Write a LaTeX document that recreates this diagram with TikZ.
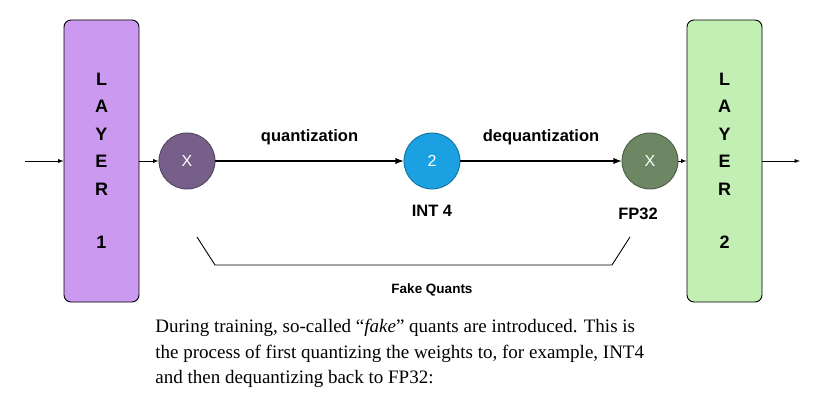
\documentclass[tikz,border=0pt]{standalone}
\usepackage{fontspec}
\setmainfont{Liberation Sans}
\newfontfamily\capfont{Liberation Serif}
\usetikzlibrary{positioning}
\definecolor{layerA}{HTML}{CC99F0}
\definecolor{layerB}{HTML}{C2EFB3}
\definecolor{opA}{HTML}{76608A}
\definecolor{opB}{HTML}{1BA1E2}
\definecolor{opC}{HTML}{6D8764}
\newcommand{\layer}{\node[draw, rounded corners=7pt, minimum width=75pt, minimum height=282pt, font=\bfseries\fontsize{18}{27.5}\selectfont, align=center]}
\newcommand{\op}{\node[circle, draw, minimum size=56pt, text=white, font=\fontsize{16}{16}\selectfont]}
\begin{document}
\begin{tikzpicture}[x=1pt, y=-1pt, >=latex, line width=0.9pt,
    lbl/.style={font=\bfseries\fontsize{16.5}{16.5}\selectfont}]
\useasboundingbox (0,0) rectangle (828,417);
            \layer[fill=layerA] (l1) at (101.5,161) {L\\A\\Y\\E\\R\\[26pt]1};
            \layer[fill=layerB] (l2) at (724.5,161) {L\\A\\Y\\E\\R\\[26pt]2};
            \op[fill=opA, draw=opA!70!black] (x1) at (187,161) {X};
            \op[fill=opB, draw=opB!70!black] (q) at (432,161) {2};
            \op[fill=opC, draw=opC!70!black] (x2) at (650,161) {X};
            \coordinate (in) at (25,161);
            \coordinate (out) at (800,161);
            \coordinate (b1) at (197,237);
            \coordinate (b2) at (215,265);
            \coordinate (b3) at (612,265);
            \coordinate (b4) at (630,237);

            \draw[->] (in) -- (l1);
            \draw[->] (l1) -- (x1);
            \draw[->, line width=1.8pt] (x1) -- node[lbl, above=12pt] {quantization} (q);
            \draw[->, line width=1.8pt] (q) -- node[lbl, above=12pt] {dequantization} (x2);
            \draw[->] (x2) -- (l2);
            \draw[->] (l2) -- (out);
            \draw (b1) -- (b2) -- (b3) -- (b4);

            \node[lbl, below=12pt of q] (int) {INT 4};
            \node[lbl] (fp) at (638,214) {FP32};
            \node[font=\bfseries\fontsize{13.5}{13.5}\selectfont] (fq) at (432,290) {Fake Quants};
            \node[anchor=north west, align=left, inner sep=0pt,
                font=\capfont\fontsize{19}{25.5}\selectfont] (cap) at (155,319)
                {During training, so-called “\textit{fake}” quants are introduced. This is\\
                 the process of first quantizing the weights to, for example, INT4\\
                 and then dequantizing back to FP32:};
\end{tikzpicture}
\end{document}
